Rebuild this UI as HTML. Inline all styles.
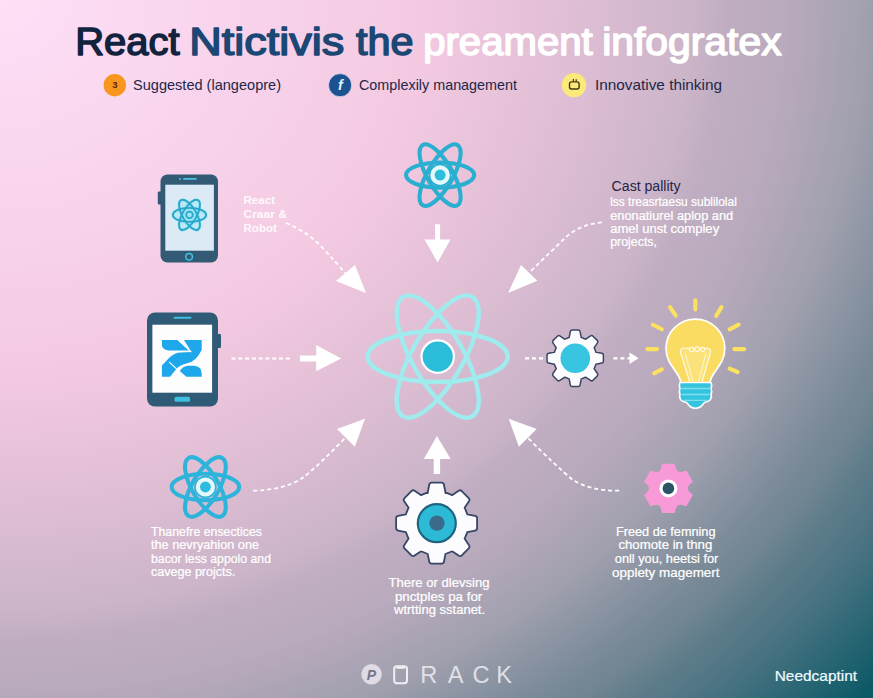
<!DOCTYPE html>
<html><head><meta charset="utf-8"><title>React infographic</title>
<style>
html,body{margin:0;padding:0;}
body{width:873px;height:698px;overflow:hidden;font-family:"Liberation Sans",sans-serif;
background:radial-gradient(ellipse 1170px 1031.7px at 0px 0px,#FDDFF6 0.00%,#F9D6EE 17.09%,#F4CBE3 34.19%,#F1C8E0 37.61%,#DFBED4 49.15%,#CCB5C9 58.97%,#C0ADC1 62.22%,#B9AABD 67.09%,#A1A0AE 74.10%,#9298A7 76.75%,#7A8A97 81.62%,#6F8491 84.27%,#5F7D8B 86.32%,#4E7484 90.00%,#3F6F7D 92.31%,#0C5966 100.00%);}
svg{position:absolute;left:0;top:0;display:block;font-family:"Liberation Sans",sans-serif;}
</style></head><body>
<svg width="873" height="698" viewBox="0 0 873 698">
<circle cx="114.8" cy="85.2" r="11.2" fill="#F9961F"/>
<text x="114.9" y="88.4" font-size="9.5" font-weight="bold" text-anchor="middle" fill="#5a2408">3</text>
<circle cx="340.1" cy="85.2" r="11.6" fill="#1D5290" stroke="#FBE6F8" stroke-width="1" stroke-opacity="0.75"/>
<text x="340.3" y="90.3" font-size="14.5" font-style="italic" font-weight="bold" text-anchor="middle" fill="#DDF2FF">f</text>
<circle cx="574" cy="85.1" r="12.2" fill="#FBE97A"/>
<rect x="569.5" y="81.9" width="9.6" height="7.1" rx="2" fill="none" stroke="#3F3A14" stroke-width="1.4"/>
<path d="M573.4,81.4 v-2.4 M576.2,81.4 v-2.2" stroke="#3F3A14" stroke-width="1.2" fill="none"/>
<rect x="157.8" y="191.5" width="4" height="13" rx="1" fill="#325A74"/>
<rect x="160.5" y="174.5" width="57.5" height="88" rx="7" fill="#325A74"/>
<rect x="165.3" y="184.7" width="48.6" height="66" fill="#DCEAF5"/>
<circle cx="180" cy="178.9" r="1" fill="#49C3E0"/>
<path d="M184,178.9 H196" stroke="#49C3E0" stroke-width="1.8" stroke-linecap="round"/>
<circle cx="189.1" cy="256.8" r="3.3" fill="none" stroke="#3FC0DD" stroke-width="1.5"/>
<g fill="#7FE6F8" fill-opacity="0.3" stroke="#7FE6F8" stroke-width="3.20" stroke-opacity="0.55"><ellipse cx="189.5" cy="214.9" rx="16.6" ry="7.0"/><ellipse cx="189.5" cy="214.9" rx="17.0" ry="7.0" transform="rotate(60 189.5 214.9)"/><ellipse cx="189.5" cy="214.9" rx="17.0" ry="7.0" transform="rotate(-60 189.5 214.9)"/></g>
<g fill="none" stroke="#2AA6C9" stroke-width="1.90" ><ellipse cx="189.5" cy="214.9" rx="16.6" ry="7.0"/><ellipse cx="189.5" cy="214.9" rx="17.0" ry="7.0" transform="rotate(60 189.5 214.9)"/><ellipse cx="189.5" cy="214.9" rx="17.0" ry="7.0" transform="rotate(-60 189.5 214.9)"/></g>
<circle cx="189.5" cy="214.9" r="3.3" fill="none" stroke="#2AA6C9" stroke-width="1.8"/>
<rect x="216" y="334" width="5" height="14" rx="1.2" fill="#2F5B76"/>
<rect x="147" y="312.5" width="71" height="94" rx="8" fill="#2F5B76"/>
<rect x="152.4" y="324.7" width="59.7" height="68" fill="#FDFDFE"/>
<path d="M174.5,317.8 H190.5" stroke="#3FBFE0" stroke-width="2" stroke-linecap="round"/>
<rect x="174.5" y="396.8" width="15.5" height="5" rx="1.5" fill="#3FBFE0"/>
<g fill="#1EA7EA"><path d="M161.9,339.9 L177.9,339.9 L189.1,350.6 L168.6,350.6 Q161.9,349.2 161.9,345.0 Z"/><path d="M184.0,339.9 L201.7,339.9 L201.7,349.7 Q196.6,361.3 187.2,363.2 Q179.8,365.0 176.5,368.8 L170.0,376.7 L161.9,376.7 L161.9,365.5 L170.0,357.1 Q174.7,352.7 180.7,352.5 L191.4,352.0 Z"/><path d="M179.8,371.1 Q182.6,366.0 188.2,365.7 L193.8,365.7 Q201.7,366.4 201.7,373.4 L201.7,376.7 L186.3,376.7 Z"/></g><path d="M177.9,339.9 L191.4,352.2 M169.1,361.8 L176.5,368.9" stroke="#FDFDFE" stroke-width="1.1" fill="none"/>
<g fill="none" stroke="#2AAFD0" stroke-width="4.10" ><ellipse cx="440.1" cy="175.1" rx="34.1" ry="12.6"/><ellipse cx="440.1" cy="175.1" rx="34.8" ry="12.6" transform="rotate(60 440.1 175.1)"/><ellipse cx="440.1" cy="175.1" rx="34.8" ry="12.6" transform="rotate(-60 440.1 175.1)"/></g>
<circle cx="440.1" cy="175.1" r="10.6" fill="#E4F7FA" stroke="#2AAFD0" stroke-width="1.6"/>
<circle cx="440.1" cy="175.1" r="5.5" fill="#2BBFDB"/>
<g fill="none" stroke="#2DB4DA" stroke-width="4.10" ><ellipse cx="205.4" cy="487.0" rx="33.8" ry="13.3"/><ellipse cx="205.4" cy="487.0" rx="33.5" ry="13.3" transform="rotate(60 205.4 487.0)"/><ellipse cx="205.4" cy="487.0" rx="33.5" ry="13.3" transform="rotate(-60 205.4 487.0)"/></g>
<circle cx="205.4" cy="487" r="10.4" fill="#E4F7FA" stroke="#2DB4DA" stroke-width="1.6"/>
<circle cx="205.4" cy="487" r="5.4" fill="#2BBCE0"/>
<g fill="none" stroke="#9FEBEE" stroke-width="4.50" ><ellipse cx="437.7" cy="356.6" rx="70.0" ry="25.5"/><ellipse cx="437.7" cy="356.6" rx="69.0" ry="25.5" transform="rotate(60 437.7 356.6)"/><ellipse cx="437.7" cy="356.6" rx="69.0" ry="25.5" transform="rotate(-60 437.7 356.6)"/></g>
<circle cx="437.7" cy="356.6" r="16.2" fill="#2BBCD9" stroke="#FFFFFF" stroke-width="2.2"/>
<path d="M435.1,224.3 H440.1 V239.4 H450.6 L437.6,262.4 L424.5,239.4 H435.1 Z" fill="#FFFFFF"/>
<path d="M436.9,436 L450.7,459 H440.1 V473.9 H433.7 V459 H423.8 Z" fill="#FFFFFF"/>
<path d="M231.5,358.5 H292.5" fill="none" stroke="#FFFFFF" stroke-width="1.8"  stroke-dasharray="4 2.8" />
<path d="M299.9,355.6 H316.2 V344.9 L341.1,358.5 L316.2,371.3 V361.4 H299.9 Z" fill="#FFFFFF"/>
<path d="M286,223 Q308,232 322.6,247.8 T346,274" fill="none" stroke="#FFFFFF" stroke-width="1.8" stroke-dasharray="4 3"/>
<path d="M366,293 L355,265 L336,281 Z" fill="#FFFFFF"/>
<path d="M601.8,222.4 C584,224 572,231 564,239 S545,257 530,272" fill="none" stroke="#FFFFFF" stroke-width="1.8" stroke-dasharray="4 3"/>
<path d="M508.1,292.9 L521,265 L537.3,280.8 Z" fill="#FFFFFF"/>
<path d="M253.1,490.7 Q285,490 304,477 Q320,464 346,437" fill="none" stroke="#FFFFFF" stroke-width="1.8" stroke-dasharray="4 3"/>
<path d="M365,418.7 L337,428.9 L354.8,446.7 Z" fill="#FFFFFF"/>
<path d="M619.2,490.7 Q590,491 572.5,479.7 Q556,466 528,438" fill="none" stroke="#FFFFFF" stroke-width="1.8" stroke-dasharray="4 3"/>
<path d="M508.7,418.7 L536.7,428.9 L518.9,446.7 Z" fill="#FFFFFF"/>
<path d="M525,358.3 H546.5" fill="none" stroke="#FFFFFF" stroke-width="2.2" stroke-dasharray="4 3"/>
<path d="M613.4,358.3 H631" fill="none" stroke="#FFFFFF" stroke-width="2.2" stroke-dasharray="4 3"/>
<path d="M629.5,352.6 L638.6,358.3 L629.5,364 Z" fill="#FFFFFF"/>
<path d="M570.89,338.77 L572.21,331.97 L578.19,331.97 L579.51,338.77 L585.89,341.42 L591.63,337.54 L595.86,341.77 L591.98,347.51 L594.63,353.89 L601.43,355.21 L601.43,361.19 L594.63,362.51 L591.98,368.89 L595.86,374.63 L591.63,378.86 L585.89,374.98 L579.51,377.63 L578.19,384.43 L572.21,384.43 L570.89,377.63 L564.51,374.98 L558.77,378.86 L554.54,374.63 L558.42,368.89 L555.77,362.51 L548.97,361.19 L548.97,355.21 L555.77,353.89 L558.42,347.51 L554.54,341.77 L558.77,337.54 L564.51,341.42 Z" fill="#394663" stroke="#394663" stroke-width="5.4" stroke-linejoin="round"/>
<path d="M570.89,338.77 L572.21,331.97 L578.19,331.97 L579.51,338.77 L585.89,341.42 L591.63,337.54 L595.86,341.77 L591.98,347.51 L594.63,353.89 L601.43,355.21 L601.43,361.19 L594.63,362.51 L591.98,368.89 L595.86,374.63 L591.63,378.86 L585.89,374.98 L579.51,377.63 L578.19,384.43 L572.21,384.43 L570.89,377.63 L564.51,374.98 L558.77,378.86 L554.54,374.63 L558.42,368.89 L555.77,362.51 L548.97,361.19 L548.97,355.21 L555.77,353.89 L558.42,347.51 L554.54,341.77 L558.77,337.54 L564.51,341.42 Z" fill="#FCFCFE" stroke="#FCFCFE" stroke-width="2.4" stroke-linejoin="round"/>
<circle cx="575.3" cy="358.2" r="14.8" fill="#37C5E1"/>
<path d="M429.91,494.21 L431.70,485.21 L441.50,485.21 L443.29,494.21 L452.37,497.97 L460.00,492.88 L466.92,499.80 L461.83,507.43 L465.59,516.51 L474.59,518.30 L474.59,528.10 L465.59,529.89 L461.83,538.97 L466.92,546.60 L460.00,553.52 L452.37,548.43 L443.29,552.19 L441.50,561.19 L431.70,561.19 L429.91,552.19 L420.83,548.43 L413.20,553.52 L406.28,546.60 L411.37,538.97 L407.61,529.89 L398.61,528.10 L398.61,518.30 L407.61,516.51 L411.37,507.43 L406.28,499.80 L413.20,492.88 L420.83,497.97 Z" fill="#364667" stroke="#364667" stroke-width="6.8" stroke-linejoin="round"/>
<path d="M429.91,494.21 L431.70,485.21 L441.50,485.21 L443.29,494.21 L452.37,497.97 L460.00,492.88 L466.92,499.80 L461.83,507.43 L465.59,516.51 L474.59,518.30 L474.59,528.10 L465.59,529.89 L461.83,538.97 L466.92,546.60 L460.00,553.52 L452.37,548.43 L443.29,552.19 L441.50,561.19 L431.70,561.19 L429.91,552.19 L420.83,548.43 L413.20,553.52 L406.28,546.60 L411.37,538.97 L407.61,529.89 L398.61,528.10 L398.61,518.30 L407.61,516.51 L411.37,507.43 L406.28,499.80 L413.20,492.88 L420.83,497.97 Z" fill="#FCFCFE" stroke="#FCFCFE" stroke-width="3.2" stroke-linejoin="round"/>
<circle cx="436.8" cy="523.2" r="19" fill="#2DBAD6" stroke="#1F657F" stroke-width="2.2"/>
<circle cx="437" cy="523.1" r="7.7" fill="#3B6B8A"/>
<path d="M662.80,465.06 L674.00,465.06 Q675.15,476.71 685.81,471.88 L691.41,481.58 Q681.90,488.40 691.41,495.22 L685.81,504.92 Q675.15,500.09 674.00,511.74 L662.80,511.74 Q661.65,500.09 650.99,504.92 L645.39,495.22 Q654.90,488.40 645.39,481.58 L650.99,471.88 Q661.65,476.71 662.80,465.06 Z" fill="#F79AD7" stroke="#F79AD7" stroke-width="2.4" stroke-linejoin="round"/>
<circle cx="668.4" cy="488.4" r="9" fill="#FFFFFF"/>
<circle cx="668.4" cy="488.4" r="5.8" fill="#2E5266"/>
<path d="M695.3,300.4 L695.3,309.4 M670.0,307.1 L675.8,315.5 M721.4,307.1 L716.2,315.9 M652.9,324.7 L661.8,329.3 M738.6,324.7 L729.6,329.3 M647.3,349.1 L657.0,349.1 M734.3,349.1 L744.2,349.1 M654.2,373.3 L661.8,369.4 M737.6,372.0 L729.6,368.6" stroke="#FBE15F" stroke-width="4.1" stroke-linecap="round" fill="none"/>
<path d="M680.7,383 C680.7,372 666,366 666,348.5 A29.4,29.4 0 1 1 724.8,348.5 C724.8,366 710.1,372 710.1,383 Z" fill="#FBDC63" stroke="#FFFFFF" stroke-width="1.7" stroke-linejoin="round"/>
<path d="M689.6,381.5 L680.6,352.5 Q679.6,348.3 684,348.3 L707,348.3 Q711.4,348.3 710.4,352.5 L702.2,381.5" fill="#FCE27A" stroke="#FFFFFF" stroke-opacity="0.85" stroke-width="1.1"/>
<path d="M693,381.5 L685.2,353 M698.8,381.5 L706,353" fill="none" stroke="#FFFFFF" stroke-opacity="0.75" stroke-width="0.9"/>
<circle cx="691.6" cy="349.6" r="2.3" fill="#FCE27A" stroke="#FFFFFF" stroke-width="1"/><circle cx="697.2" cy="349.2" r="2.5" fill="#FCE27A" stroke="#FFFFFF" stroke-width="1"/><circle cx="702.8" cy="349.4" r="2.2" fill="#FCE27A" stroke="#FFFFFF" stroke-width="1"/>
<path d="M680,382.5 H711 Q712.4,385.5 711,388.5 Q712.4,391.5 711,394.5 Q712.2,397.5 710,400 Q708,402 704.5,402.5 L701,406.5 Q695.5,410 690,406.5 L686.5,402.5 Q683,402 681,400 Q678.8,397.5 680,394.5 Q678.6,391.5 680,388.5 Q678.6,385.5 680,382.5 Z" fill="#35C4DD" stroke="#FFFFFF" stroke-width="1.6" stroke-linejoin="round"/>
<path d="M681.5,388.5 H709.5 M681.5,394.5 H709.5 M684,400.4 H707" stroke="#7FDFEE" stroke-width="1.3" fill="none"/>
<circle cx="371.6" cy="674.3" r="10.3" fill="#E6E0EA" fill-opacity="0.92"/>
<text x="371.4" y="679.6" font-size="14" font-weight="bold" font-style="italic" text-anchor="middle" fill="#747689">P</text>
<rect x="394.2" y="666.2" width="12.8" height="17" rx="2.6" fill="none" stroke="#F1EEF4" stroke-width="2"/>
<path d="M396.5,667.6 H404.7" stroke="#F1EEF4" stroke-width="2.4"/>
<text x="75.2" y="54.9" font-size="38.60" font-weight="normal" text-anchor="start" fill="#12233F" stroke="#12233F" stroke-width="1.5" stroke-linejoin="round" textLength="104.4" lengthAdjust="spacingAndGlyphs">React</text>
<text x="189.2" y="54.9" font-size="38.60" font-weight="normal" text-anchor="start" fill="#1B4775" stroke="#1B4775" stroke-width="1.5" stroke-linejoin="round" textLength="155.2" lengthAdjust="spacingAndGlyphs">Ntictivis</text>
<text x="356.0" y="54.9" font-size="38.60" font-weight="normal" text-anchor="start" fill="#1B4775" stroke="#1B4775" stroke-width="1.5" stroke-linejoin="round" textLength="57.7" lengthAdjust="spacingAndGlyphs">the</text>
<text x="423.2" y="54.9" font-size="38.60" font-weight="normal" text-anchor="start" fill="#FFFFFF" stroke="#FFFFFF" stroke-width="1.5" stroke-linejoin="round" textLength="169.5" lengthAdjust="spacingAndGlyphs">preament</text>
<text x="602.2" y="54.9" font-size="38.60" font-weight="normal" text-anchor="start" fill="#FFFFFF" stroke="#FFFFFF" stroke-width="1.5" stroke-linejoin="round" textLength="179.4" lengthAdjust="spacingAndGlyphs">infogratex</text>
<text x="133.0" y="90.2" font-size="15.00" font-weight="normal" text-anchor="start" fill="#222748"  textLength="148.0" lengthAdjust="spacingAndGlyphs">Suggested (langeopre)</text>
<text x="359.0" y="90.2" font-size="15.00" font-weight="normal" text-anchor="start" fill="#222748"  textLength="158.0" lengthAdjust="spacingAndGlyphs">Complexily management</text>
<text x="595.0" y="90.2" font-size="15.00" font-weight="normal" text-anchor="start" fill="#222748"  textLength="127.0" lengthAdjust="spacingAndGlyphs">Innovative thinking</text>
<text x="243.5" y="204.4" font-size="11.00" font-weight="bold" text-anchor="start" fill="#FFFFFF" fill-opacity="0.92" textLength="31.5" lengthAdjust="spacingAndGlyphs">React</text>
<text x="243.5" y="218.0" font-size="11.00" font-weight="bold" text-anchor="start" fill="#FFFFFF" fill-opacity="0.92" textLength="43.4" lengthAdjust="spacingAndGlyphs">Craar &amp;</text>
<text x="243.5" y="231.6" font-size="11.00" font-weight="bold" text-anchor="start" fill="#FFFFFF" fill-opacity="0.92" textLength="33.4" lengthAdjust="spacingAndGlyphs">Robot</text>
<text x="611.6" y="191.4" font-size="13.80" font-weight="normal" text-anchor="start" fill="#1E2547"  textLength="69.0" lengthAdjust="spacingAndGlyphs">Cast pallity</text>
<text x="610.2" y="206.2" font-size="12.30" font-weight="normal" text-anchor="start" fill="#FFFFFF"  textLength="126.6" lengthAdjust="spacingAndGlyphs" stroke="#FFFFFF" stroke-width="0.22">lss treasrtaesu sublilolal</text>
<text x="610.2" y="219.5" font-size="12.30" font-weight="normal" text-anchor="start" fill="#FFFFFF"  textLength="123.0" lengthAdjust="spacingAndGlyphs" stroke="#FFFFFF" stroke-width="0.22">enonatiurel aplop and</text>
<text x="610.2" y="232.8" font-size="12.30" font-weight="normal" text-anchor="start" fill="#FFFFFF"  textLength="109.0" lengthAdjust="spacingAndGlyphs" stroke="#FFFFFF" stroke-width="0.22">amel unst compley</text>
<text x="610.2" y="246.1" font-size="12.30" font-weight="normal" text-anchor="start" fill="#FFFFFF"  textLength="46.8" lengthAdjust="spacingAndGlyphs" stroke="#FFFFFF" stroke-width="0.22">projects,</text>
<text x="151.0" y="536.1" font-size="12.20" font-weight="normal" text-anchor="start" fill="#FFFFFF"  textLength="110.9" lengthAdjust="spacingAndGlyphs" stroke="#FFFFFF" stroke-width="0.22">Thanefre ensectices</text>
<text x="151.0" y="549.4" font-size="12.20" font-weight="normal" text-anchor="start" fill="#FFFFFF"  textLength="108.0" lengthAdjust="spacingAndGlyphs" stroke="#FFFFFF" stroke-width="0.22">the nevryahion one</text>
<text x="151.0" y="562.7" font-size="12.20" font-weight="normal" text-anchor="start" fill="#FFFFFF"  textLength="120.0" lengthAdjust="spacingAndGlyphs" stroke="#FFFFFF" stroke-width="0.22">bacor less appolo and</text>
<text x="151.0" y="576.0" font-size="12.20" font-weight="normal" text-anchor="start" fill="#FFFFFF"  textLength="84.3" lengthAdjust="spacingAndGlyphs" stroke="#FFFFFF" stroke-width="0.22">cavege projcts.</text>
<text x="388.4" y="586.6" font-size="13.00" font-weight="normal" text-anchor="start" fill="#FFFFFF"  textLength="101.1" lengthAdjust="spacingAndGlyphs" stroke="#FFFFFF" stroke-width="0.22">There or dlevsing</text>
<text x="394.9" y="600.5" font-size="13.00" font-weight="normal" text-anchor="start" fill="#FFFFFF"  textLength="87.4" lengthAdjust="spacingAndGlyphs" stroke="#FFFFFF" stroke-width="0.22">pnctples pa for</text>
<text x="394.0" y="614.4" font-size="13.00" font-weight="normal" text-anchor="start" fill="#FFFFFF"  textLength="91.1" lengthAdjust="spacingAndGlyphs" stroke="#FFFFFF" stroke-width="0.22">wtrtting sstanet.</text>
<text x="616.0" y="535.8" font-size="12.70" font-weight="normal" text-anchor="start" fill="#FFFFFF"  textLength="99.5" lengthAdjust="spacingAndGlyphs" stroke="#FFFFFF" stroke-width="0.22">Freed de femning</text>
<text x="618.4" y="549.4" font-size="12.70" font-weight="normal" text-anchor="start" fill="#FFFFFF"  textLength="93.9" lengthAdjust="spacingAndGlyphs" stroke="#FFFFFF" stroke-width="0.22">chomote in thng</text>
<text x="614.8" y="563.1" font-size="12.70" font-weight="normal" text-anchor="start" fill="#FFFFFF"  textLength="103.5" lengthAdjust="spacingAndGlyphs" stroke="#FFFFFF" stroke-width="0.22">onll you, heetsi for</text>
<text x="612.0" y="576.8" font-size="12.70" font-weight="normal" text-anchor="start" fill="#FFFFFF"  textLength="107.5" lengthAdjust="spacingAndGlyphs" stroke="#FFFFFF" stroke-width="0.22">opplety magemert</text>
<text x="428.8" y="682.8" font-size="23.60" font-weight="normal" text-anchor="middle" fill="#F4F1F6" fill-opacity="0.82">R</text>
<text x="455.5" y="682.8" font-size="23.60" font-weight="normal" text-anchor="middle" fill="#F4F1F6" fill-opacity="0.82">A</text>
<text x="481.0" y="682.8" font-size="23.60" font-weight="normal" text-anchor="middle" fill="#F4F1F6" fill-opacity="0.82">C</text>
<text x="504.0" y="682.8" font-size="23.60" font-weight="normal" text-anchor="middle" fill="#F4F1F6" fill-opacity="0.82">K</text>
<text x="774.7" y="680.7" font-size="15.00" font-weight="normal" text-anchor="start" fill="#EEFCFF"  textLength="82.4" lengthAdjust="spacingAndGlyphs" stroke="#EEFCFF" stroke-width="0.22">Needcaptint</text>
</svg>
</body></html>
